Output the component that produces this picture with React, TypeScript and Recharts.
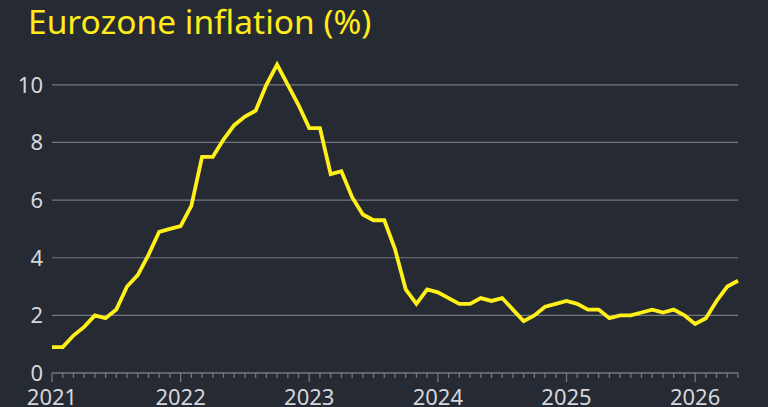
import { LineChart, Line, XAxis, YAxis, CartesianGrid } from 'recharts'

// monthly HICP, Jan 2021 .. May 2026
const inflation = [
    0.9, 0.9, 1.3, 1.6, 2.0, 1.9, 2.2, 3.0, 3.4, 4.1, 4.9, 5.0,
    5.1, 5.8, 7.5, 7.5, 8.1, 8.6, 8.9, 9.1, 10.0, 10.7, 10.0, 9.3,
    8.5, 8.5, 6.9, 7.0, 6.1, 5.5, 5.3, 5.3, 4.3, 2.9, 2.4, 2.9,
    2.8, 2.6, 2.4, 2.4, 2.6, 2.5, 2.6, 2.2, 1.8, 2.0, 2.3, 2.4,
    2.5, 2.4, 2.2, 2.2, 1.9, 2.0, 2.0, 2.1, 2.2, 2.1, 2.2, 2.0,
    1.7, 1.9, 2.5, 3.0, 3.2,
]
const years = ['2021', '2022', '2023', '2024', '2025', '2026']
const yTicks = [0, 2, 4, 6, 8, 10]
const gridValues = [2, 4, 6, 8, 10]

const data = inflation.map((v, i) => ({ m: i, v }))
const monthTicks = inflation.map((_, i) => i)

const BG = '#262a33'
const YELLOW = '#fff01a'
const GRID = '#74777e'
const LABEL = '#d5d7db'
const FONT = '"Noto Sans", "Open Sans", sans-serif'

function MonthTick(props: any) {
    const { x, y, payload } = props
    const i = payload.value as number
    const major = i % 12 === 0
    return (
        <g>
            <line x1={x} x2={x} y1={y} y2={y + (major ? 9 : 5)} stroke={GRID} strokeWidth={1.3} />
            {major && (
                <text x={x} y={y + 32} textAnchor="middle" fill={LABEL} fontSize={22} fontFamily={FONT}>
                    {years[i / 12]}
                </text>
            )}
        </g>
    )
}

export default function App() {
    return (
        <div style={{ position: 'absolute', left: 0, top: 0, width: 768, height: 407, background: BG, overflow: 'hidden' }}>
            <style>{'body{margin:0}'}</style>
            <div style={{ position: 'absolute', left: 28, top: 1, color: '#ffec1a', fontFamily: FONT, fontSize: 33.5, lineHeight: '40px' }}>
                Eurozone inflation (%)
            </div>
            <LineChart
                width={768}
                height={407}
                data={data}
                margin={{ top: 56, right: 30, bottom: 0, left: 0 }}
                style={{ position: 'absolute', left: 0, top: 0 }}
            >
                <CartesianGrid vertical={false} horizontalValues={gridValues} stroke={GRID} strokeWidth={1.2} />
                <XAxis
                    dataKey="m"
                    type="number"
                    domain={[0, 64]}
                    ticks={monthTicks}
                    interval={0}
                    tickSize={0}
                    tickMargin={0}
                    tickLine={false}
                    axisLine={{ stroke: GRID, strokeWidth: 1.3 }}
                    tick={<MonthTick />}
                    height={34}
                />
                <YAxis
                    domain={[0, 11]}
                    ticks={yTicks}
                    width={52}
                    tickSize={0}
                    tickMargin={9}
                    axisLine={false}
                    tickLine={false}
                    tick={{ fill: LABEL, fontSize: 22, fontFamily: FONT }}
                />
                <Line
                    dataKey="v"
                    stroke={YELLOW}
                    strokeWidth={3.8}
                    dot={false}
                    strokeLinejoin="miter"
                    isAnimationActive={false}
                />
            </LineChart>
        </div>
    )
}
